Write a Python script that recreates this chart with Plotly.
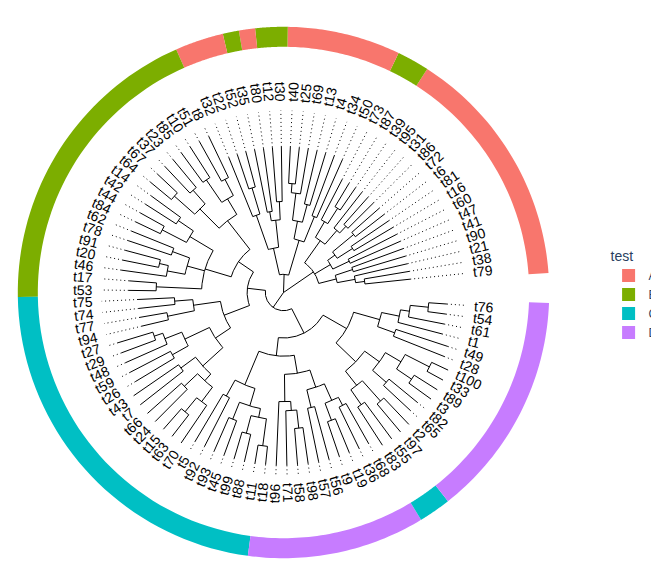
import math
import plotly.graph_objects as go

# tip order, counterclockwise from the gap at the right
tips = ["t79", "t38", "t21", "t90", "t41", "t47", "t60", "t16", "t81", "t6",
        "t72", "t86", "t31", "t95", "t39", "t87", "t73", "t50", "t34", "t4",
        "t13", "t69", "t25", "t40", "t30", "t12", "t80", "t35", "t52", "t22",
        "t32", "t8", "t51", "t10", "t85", "t23", "t37", "t67", "t64", "t14",
        "t42", "t44", "t84", "t62", "t78", "t91", "t20", "t46", "t17", "t53",
        "t75", "t74", "t77", "t94", "t27", "t29", "t48", "t59", "t26", "t43",
        "t7", "t66", "t24", "t15", "t63", "t70", "t5", "t92", "t93", "t45",
        "t99", "t88", "t11", "t18", "t96", "t71", "t58", "t98", "t57", "t56",
        "t9", "t19", "t36", "t68", "t83", "t55", "t97", "t2", "t65", "t82",
        "t3", "t89", "t33", "t100", "t28", "t49", "t1", "t61", "t54", "t76"]

# group of each tip, same order
groups = (["A"] * 15 + ["B"] * 2 + ["A"] * 7 + ["B"] * 2 + ["A"] + ["B"] + ["A"] * 3
          + ["B"] * 19 + ["C"] * 23 + ["D"] * 11 + ["C"] * 2 + ["D"] * 14)

group_names = ["A", "B", "C", "D"]
group_colors = ["#F8766D", "#7CAE00", "#00BFC4", "#C77CFF"]

# tree (approximate branch lengths)
clade_a = ("((((t79:0.25,t38:0.25):0.05,t21:0.3):0.1,(t90:0.3,t41:0.3):0.1):0.1,"
           "((t47:0.3,t60:0.3):0.1,((t16:0.25,t81:0.25):0.1,(t6:0.2,t72:0.2):0.15):0.05):0.1,"
           "(((t86:0.2,t31:0.2):0.05,t95:0.25):0.1,((t39:0.15,t87:0.15):0.1,t73:0.25):0.1):0.15):0.2")
clade_top = ("(((t50:0.35,t34:0.35):0.15,((t4:0.3,t13:0.3):0.1,(t69:0.25,(t25:0.2,t40:0.2):0.05):0.15):0.1):0.2,"
             "(((t30:0.3,t12:0.3):0.1,(t80:0.35,t35:0.35):0.05):0.15,((t52:0.2,t22:0.2):0.15,t32:0.35):0.2):0.15):0.1")
clade_b = ("((((t8:0.25,t51:0.25):0.1,(t10:0.2,t85:0.2):0.15):0.1,((t23:0.2,t37:0.2):0.1,(t67:0.15,t64:0.15):0.15):0.15):0.2,"
           "(((t14:0.2,t42:0.2):0.1,(t44:0.15,t84:0.15):0.15):0.15,((t62:0.25,t78:0.25):0.1,((t91:0.2,t20:0.2):0.05,t46:0.25):0.1):0.1,"
           "(t17:0.15,t53:0.15):0.25):0.15):0.1")
clade_c = ("(((t75:0.2,t74:0.2):0.1,(t77:0.15,t94:0.15):0.15):0.15,((((t27:0.2,t29:0.2):0.05,t48:0.25):0.1,"
           "(t59:0.25,t26:0.25):0.1):0.15,((t43:0.3,t7:0.3):0.1,((t66:0.25,t24:0.25):0.1,"
           "((t15:0.15,t63:0.15):0.1,t70:0.25):0.1):0.05):0.15):0.1):0.15")
clade_bot = ("(((t5:0.3,t92:0.3):0.1,((t93:0.2,t45:0.2):0.1,((t99:0.15,t88:0.15):0.1,(t11:0.1,t18:0.1):0.15):0.05):0.1):0.2,"
             "((t96:0.35,(t71:0.3,(t58:0.2,t98:0.2):0.1):0.05):0.15,((t57:0.3,t56:0.3):0.1,"
             "((t9:0.2,t19:0.2):0.1,(t36:0.25,t68:0.25):0.05):0.1):0.1):0.1):0.1")
clade_d = ("((((t83:0.25,t55:0.25):0.1,(t97:0.2,t2:0.2):0.15):0.1,((t65:0.2,t82:0.2):0.1,"
           "((t3:0.15,t89:0.15):0.1,(t33:0.1,t100:0.1):0.15):0.1):0.1):0.15,((t28:0.3,t49:0.3):0.1,"
           "(t1:0.25,(t61:0.2,(t54:0.1,t76:0.1):0.1):0.05):0.1):0.15):0.15")
newick = ("(" + clade_a + "," + clade_top + ",((" + clade_b + "," + clade_c + "):0.1,("
          + clade_bot + "," + clade_d + "):0.15):0.1);")


def parse(s):
    pos = 0

    def node():
        nonlocal pos
        n = {"children": [], "name": None, "len": 0.0}
        if s[pos] == "(":
            pos += 1
            while True:
                n["children"].append(node())
                if s[pos] == ",":
                    pos += 1
                    continue
                pos += 1  # ")"
                break
        else:
            start = pos
            while s[pos] not in ",():;":
                pos += 1
            n["name"] = s[start:pos]
        if s[pos] == ":":
            pos += 1
            start = pos
            while s[pos] not in ",();":
                pos += 1
            n["len"] = float(s[start:pos])
        return n

    return node()


root = parse(newick)

step = 3.535
tip_angle = {t: 6 + i * step for i, t in enumerate(tips)}


def layout(n, r0):
    n["r"] = r0 + n["len"]
    if n["name"]:
        n["a"] = tip_angle[n["name"]]
    else:
        for c in n["children"]:
            layout(c, n["r"])
        angs = [c["a"] for c in n["children"]]
        n["a"] = (min(angs) + max(angs)) / 2


root["len"] = 0
layout(root, 0)


def max_r(n):
    return max([n["r"]] + [max_r(c) for c in n["children"]])


scale = 1 / max_r(root)

xs, ys = [], []
dx, dy = [], []


def pt(r, a):
    return r * math.cos(math.radians(a)), r * math.sin(math.radians(a))


def draw(n, parent_r):
    r = n["r"] * scale
    x0, y0 = pt(parent_r, n["a"])
    x1, y1 = pt(r, n["a"])
    xs.extend([x0, x1, None]); ys.extend([y0, y1, None])
    if n["children"]:
        angs = [c["a"] for c in n["children"]]
        if r > 0:
            a = min(angs)
            while a <= max(angs):
                p = pt(r, a); xs.append(p[0]); ys.append(p[1])
                a += 0.5
            p = pt(r, max(angs)); xs.extend([p[0], None]); ys.extend([p[1], None])
        for c in n["children"]:
            draw(c, r)
    else:
        p2 = pt(1.0, n["a"])
        dx.extend([x1, p2[0], None]); dy.extend([y1, p2[1], None])


draw(root, 0)

fig = go.Figure()
fig.add_trace(go.Scatter(x=dx, y=dy, mode="lines", line=dict(color="black", width=1, dash="1px,3px"),
                         showlegend=False, hoverinfo="skip"))
fig.add_trace(go.Scatter(x=xs, y=ys, mode="lines", line=dict(color="black", width=1),
                         showlegend=False, hoverinfo="skip"))

# ring: merge runs of the same group
r_in, r_out = 1.35, 1.46
i = 0
while i < len(tips):
    j = i
    while j + 1 < len(tips) and groups[j + 1] == groups[i]:
        j += 1
    a0 = tip_angle[tips[i]] - step / 2
    a1 = tip_angle[tips[j]] + step / 2
    angs = [a0 + (a1 - a0) * k / 40 for k in range(41)]
    px = [pt(r_out, a)[0] for a in angs] + [pt(r_in, a)[0] for a in reversed(angs)]
    py = [pt(r_out, a)[1] for a in angs] + [pt(r_in, a)[1] for a in reversed(angs)]
    col = group_colors[group_names.index(groups[i])]
    fig.add_trace(go.Scatter(x=px, y=py, fill="toself", fillcolor=col, mode="none",
                             showlegend=False, hoverinfo="skip"))
    i = j + 1

for g, c in zip(group_names, group_colors):
    fig.add_trace(go.Scatter(x=[None], y=[None], mode="markers", name=g,
                             marker=dict(symbol="square", size=13, color=c)))

px_per_unit = 182
for t in tips:
    a = tip_angle[t]
    half = (len(t) * 7.8 / 2) / px_per_unit
    cx, cy = pt(1.04 + half, a)
    ang = a if (a < 90 or a > 270) else a - 180
    fig.add_annotation(x=cx, y=cy, text=t, showarrow=False, textangle=-ang,
                       xanchor="center", yanchor="middle",
                       font=dict(size=14, color="black", family="Liberation Sans, Arial"))

half_range = 275.5 / px_per_unit
fig.update_xaxes(range=[-half_range, half_range], visible=False)
fig.update_yaxes(range=[-half_range, half_range], visible=False)
fig.update_layout(
    width=659, height=570,
    margin=dict(l=0, r=108, t=9, b=10),
    plot_bgcolor="white", paper_bgcolor="white",
    legend=dict(title=dict(text="test", font=dict(size=14)), x=1.09, y=0.59,
                xanchor="left", yanchor="top", font=dict(size=12, family="Liberation Sans, Arial"),
                tracegroupgap=0, itemwidth=30),
)
fig.write_html("out.html")
